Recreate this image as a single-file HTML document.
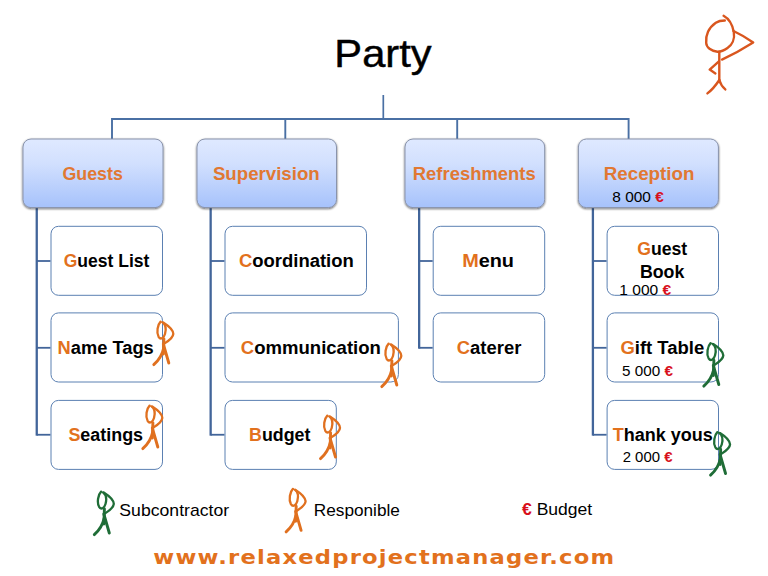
<!DOCTYPE html>
<html lang="en"><head><meta charset="utf-8"><title>Party WBS</title>
<style>html,body{margin:0;padding:0;background:#fff;overflow:hidden}svg{display:block}</style></head><body>
<svg width="768" height="576" viewBox="0 0 768 576">
<defs><linearGradient id="g1" x1="0" y1="0" x2="0" y2="1"><stop offset="0" stop-color="#dfe9ff"/><stop offset="0.35" stop-color="#d2e0fe"/><stop offset="1" stop-color="#a6c2fb"/></linearGradient><filter id="sh" x="-10%" y="-10%" width="120%" height="140%"><feGaussianBlur in="SourceAlpha" stdDeviation="0.9"/><feOffset dy="1.3" result="b"/><feComponentTransfer><feFuncA type="linear" slope="0.6"/></feComponentTransfer><feMerge><feMergeNode/><feMergeNode in="SourceGraphic"/></feMerge></filter></defs>
<rect width="768" height="576" fill="#fff"/>
<g fill="none" stroke="#4a70a4" stroke-width="1.9" stroke-linejoin="miter">
<path d="M383.3,95 V119" stroke-width="1.7"/>
<path d="M112,139 V119 H628.6 V139"/>
<path d="M285.3,119 V139"/><path d="M457.2,119 V139"/>
</g>
<path d="M36.75,208 V435.65" fill="none" stroke="#42659a" stroke-width="2.3"/>
<path d="M36.75,261 H50.5" fill="none" stroke="#42659a" stroke-width="1.8"/>
<path d="M36.75,347.8 H50.5" fill="none" stroke="#42659a" stroke-width="1.8"/>
<path d="M36.75,434.75 H50.5" fill="none" stroke="#42659a" stroke-width="1.8"/>
<path d="M210.65,208 V435.65" fill="none" stroke="#42659a" stroke-width="2.3"/>
<path d="M210.65,261 H224.5" fill="none" stroke="#42659a" stroke-width="1.8"/>
<path d="M210.65,347.8 H224.5" fill="none" stroke="#42659a" stroke-width="1.8"/>
<path d="M210.65,434.75 H224.5" fill="none" stroke="#42659a" stroke-width="1.8"/>
<path d="M419.15,208 V348.7" fill="none" stroke="#42659a" stroke-width="2.3"/>
<path d="M419.15,261 H432.7" fill="none" stroke="#42659a" stroke-width="1.8"/>
<path d="M419.15,347.8 H432.7" fill="none" stroke="#42659a" stroke-width="1.8"/>
<path d="M592.9,208 V435.65" fill="none" stroke="#42659a" stroke-width="2.3"/>
<path d="M592.9,261 H606.6" fill="none" stroke="#42659a" stroke-width="1.8"/>
<path d="M592.9,347.8 H606.6" fill="none" stroke="#42659a" stroke-width="1.8"/>
<path d="M592.9,434.75 H606.6" fill="none" stroke="#42659a" stroke-width="1.8"/>
<rect x="23" y="139" width="140" height="68.6" rx="8" ry="8" fill="url(#g1)" stroke="#8a94ac" stroke-width="1" filter="url(#sh)"/>
<rect x="197" y="139" width="139.5" height="68.6" rx="8" ry="8" fill="url(#g1)" stroke="#8a94ac" stroke-width="1" filter="url(#sh)"/>
<rect x="405" y="139" width="139.70000000000005" height="68.6" rx="8" ry="8" fill="url(#g1)" stroke="#8a94ac" stroke-width="1" filter="url(#sh)"/>
<rect x="578.4" y="139" width="140.0" height="68.6" rx="8" ry="8" fill="url(#g1)" stroke="#8a94ac" stroke-width="1" filter="url(#sh)"/>
<rect x="51" y="226.3" width="111.5" height="69.0" rx="7.5" ry="7.5" fill="#fff" stroke="#5b80b2" stroke-width="1"/>
<rect x="51" y="312.9" width="111.5" height="69.1" rx="7.5" ry="7.5" fill="#fff" stroke="#5b80b2" stroke-width="1"/>
<rect x="51" y="400.4" width="111.5" height="69.0" rx="7.5" ry="7.5" fill="#fff" stroke="#5b80b2" stroke-width="1"/>
<rect x="225" y="226.3" width="141.5" height="69.0" rx="7.5" ry="7.5" fill="#fff" stroke="#5b80b2" stroke-width="1"/>
<rect x="225" y="312.9" width="173.4" height="69.1" rx="7.5" ry="7.5" fill="#fff" stroke="#5b80b2" stroke-width="1"/>
<rect x="225" y="400.4" width="111.3" height="69.0" rx="7.5" ry="7.5" fill="#fff" stroke="#5b80b2" stroke-width="1"/>
<rect x="433.2" y="226.3" width="111.5" height="69.0" rx="7.5" ry="7.5" fill="#fff" stroke="#5b80b2" stroke-width="1"/>
<rect x="433.2" y="312.9" width="111.5" height="69.1" rx="7.5" ry="7.5" fill="#fff" stroke="#5b80b2" stroke-width="1"/>
<rect x="607.1" y="226.3" width="111.4" height="69.0" rx="7.5" ry="7.5" fill="#fff" stroke="#5b80b2" stroke-width="1"/>
<rect x="607.1" y="312.9" width="111.4" height="69.1" rx="7.5" ry="7.5" fill="#fff" stroke="#5b80b2" stroke-width="1"/>
<rect x="607.1" y="400.4" width="111.4" height="69.0" rx="7.5" ry="7.5" fill="#fff" stroke="#5b80b2" stroke-width="1"/>
<text id="t_party" xml:space="preserve" transform="translate(334.37,67) scale(1.0847,1)" font-family='"Liberation Sans", sans-serif' font-size="38.4" font-weight="normal" stroke="#000" stroke-width="0.45"><tspan fill="#000000">Party</tspan></text>
<text id="t_guests" xml:space="preserve" transform="translate(62.42,179.6) scale(0.9490,1)" font-family='"Liberation Sans", sans-serif' font-size="18.8" font-weight="bold"><tspan fill="#e17832">Guests</tspan></text>
<text id="t_superv" xml:space="preserve" transform="translate(212.90,179.5) scale(0.9931,1)" font-family='"Liberation Sans", sans-serif' font-size="18.8" font-weight="bold"><tspan fill="#e17832">Supervision</tspan></text>
<text id="t_refresh" xml:space="preserve" transform="translate(412.81,179.5) scale(0.9798,1)" font-family='"Liberation Sans", sans-serif' font-size="18.8" font-weight="bold"><tspan fill="#e17832">Refreshments</tspan></text>
<text id="t_recep" xml:space="preserve" transform="translate(603.78,179.6) scale(0.9988,1)" font-family='"Liberation Sans", sans-serif' font-size="18.8" font-weight="bold"><tspan fill="#e17832">Reception</tspan></text>
<text id="t_guestlist" xml:space="preserve" transform="translate(63.71,267) scale(0.9330,1)" font-family='"Liberation Sans", sans-serif' font-size="18.8" font-weight="bold"><tspan fill="#e2711d">G</tspan><tspan fill="#000000">uest List</tspan></text>
<text id="t_nametags" xml:space="preserve" transform="translate(57.61,353.9) scale(0.9728,1)" font-family='"Liberation Sans", sans-serif' font-size="18.8" font-weight="bold"><tspan fill="#e2711d">N</tspan><tspan fill="#000000">ame Tags</tspan></text>
<text id="t_seatings" xml:space="preserve" transform="translate(68.39,441) scale(0.9537,1)" font-family='"Liberation Sans", sans-serif' font-size="18.8" font-weight="bold"><tspan fill="#e2711d">S</tspan><tspan fill="#000000">eatings</tspan></text>
<text id="t_coord" xml:space="preserve" transform="translate(238.91,266.7) scale(0.9836,1)" font-family='"Liberation Sans", sans-serif' font-size="18.8" font-weight="bold"><tspan fill="#e2711d">C</tspan><tspan fill="#000000">oordination</tspan></text>
<text id="t_commun" xml:space="preserve" transform="translate(240.83,354) scale(0.9868,1)" font-family='"Liberation Sans", sans-serif' font-size="18.8" font-weight="bold"><tspan fill="#e2711d">C</tspan><tspan fill="#000000">ommunication</tspan></text>
<text id="t_budget" xml:space="preserve" transform="translate(249.06,440.7) scale(0.9491,1)" font-family='"Liberation Sans", sans-serif' font-size="18.8" font-weight="bold"><tspan fill="#e2711d">B</tspan><tspan fill="#000000">udget</tspan></text>
<text id="t_menu" xml:space="preserve" transform="translate(462.14,266.6) scale(1.0564,1)" font-family='"Liberation Sans", sans-serif' font-size="18.8" font-weight="bold"><tspan fill="#e2711d">M</tspan><tspan fill="#000000">enu</tspan></text>
<text id="t_caterer" xml:space="preserve" transform="translate(456.80,353.9) scale(0.9807,1)" font-family='"Liberation Sans", sans-serif' font-size="18.8" font-weight="bold"><tspan fill="#e2711d">C</tspan><tspan fill="#000000">aterer</tspan></text>
<text id="t_guest" xml:space="preserve" transform="translate(637.14,254.75) scale(0.9405,1)" font-family='"Liberation Sans", sans-serif' font-size="18.8" font-weight="bold"><tspan fill="#e2711d">G</tspan><tspan fill="#000000">uest</tspan></text>
<text id="t_book" xml:space="preserve" transform="translate(639.95,278) scale(0.9450,1)" font-family='"Liberation Sans", sans-serif' font-size="18.8" font-weight="bold"><tspan fill="#000000">Book</tspan></text>
<text id="t_gift" xml:space="preserve" transform="translate(620.43,353.75) scale(0.9835,1)" font-family='"Liberation Sans", sans-serif' font-size="18.8" font-weight="bold"><tspan fill="#e2711d">G</tspan><tspan fill="#000000">ift Table</tspan></text>
<text id="t_thank" xml:space="preserve" transform="translate(612.71,440.75) scale(0.9586,1)" font-family='"Liberation Sans", sans-serif' font-size="18.8" font-weight="bold"><tspan fill="#e2711d">T</tspan><tspan fill="#000000">hank yous</tspan></text>
<text id="t_b8" xml:space="preserve" transform="translate(612.32,201.6) scale(1.0863,1)" font-family='"Liberation Sans", sans-serif' font-size="14.2" font-weight="normal"><tspan fill="#000000">8 000 </tspan><tspan fill="#d8101c" font-weight="bold">€</tspan></text>
<text id="t_b1" xml:space="preserve" transform="translate(619.29,294.75) scale(1.0972,1)" font-family='"Liberation Sans", sans-serif' font-size="14.2" font-weight="normal"><tspan fill="#000000">1 000 </tspan><tspan fill="#d8101c" font-weight="bold">€</tspan></text>
<text id="t_b5" xml:space="preserve" transform="translate(622.08,375.5) scale(1.0731,1)" font-family='"Liberation Sans", sans-serif' font-size="14.2" font-weight="normal"><tspan fill="#000000">5 000 </tspan><tspan fill="#d8101c" font-weight="bold">€</tspan></text>
<text id="t_b2" xml:space="preserve" transform="translate(622.66,462) scale(1.0525,1)" font-family='"Liberation Sans", sans-serif' font-size="14.2" font-weight="normal"><tspan fill="#000000">2 000 </tspan><tspan fill="#d8101c" font-weight="bold">€</tspan></text>
<text id="t_subc" xml:space="preserve" transform="translate(119.36,516.25) scale(1.0885,1)" font-family='"Liberation Sans", sans-serif' font-size="16.2" font-weight="normal"><tspan fill="#000000">Subcontractor</tspan></text>
<text id="t_resp" xml:space="preserve" transform="translate(313.82,516) scale(1.0629,1)" font-family='"Liberation Sans", sans-serif' font-size="16.2" font-weight="normal"><tspan fill="#000000">Responible</tspan></text>
<text id="t_eurob" xml:space="preserve" transform="translate(522.00,515) scale(1.0833,1)" font-family='"Liberation Sans", sans-serif' font-size="16.2" font-weight="normal"><tspan fill="#d8101c" font-weight="bold">€</tspan><tspan fill="#000000"> Budget</tspan></text>
<text id="t_url" xml:space="preserve" transform="translate(153.33,563.85) scale(1.1935,1)" font-family='"DejaVu Sans", sans-serif' font-size="19" font-weight="bold" letter-spacing="1.0"><tspan fill="#e2711d">www.relaxedprojectmanager.com</tspan></text>
<g transform="translate(153,321)" fill="none" stroke="#e0701f" stroke-width="2.3" stroke-linecap="round" stroke-linejoin="round"><path d="M7.6,0.6 C4.6,3.6 3.2,11.5 5.6,15.8 C7.6,19 10.8,17.2 12,13 C13.4,8 12.2,3.4 9.6,1.4"/><path d="M10.2,1.6 C15,4.6 20,9 20.3,12.9 C20.2,16.8 15.4,20 11.6,22.4"/><g stroke-width="2.9"><path d="M10.9,17.8 L10.4,33"/><path d="M10.7,27 C9.2,34 5,40 0.8,43.6"/><path d="M10.3,23 L15.8,42"/></g></g>
<g transform="translate(142,405)" fill="none" stroke="#e0701f" stroke-width="2.3" stroke-linecap="round" stroke-linejoin="round"><path d="M7.6,0.6 C4.6,3.6 3.2,11.5 5.6,15.8 C7.6,19 10.8,17.2 12,13 C13.4,8 12.2,3.4 9.6,1.4"/><path d="M10.2,1.6 C15,4.6 20,9 20.3,12.9 C20.2,16.8 15.4,20 11.6,22.4"/><g stroke-width="2.9"><path d="M10.9,17.8 L10.4,33"/><path d="M10.7,27 C9.2,34 5,40 0.8,43.6"/><path d="M10.3,23 L15.8,42"/></g></g>
<g transform="translate(381,343)" fill="none" stroke="#e0701f" stroke-width="2.3" stroke-linecap="round" stroke-linejoin="round"><path d="M7.6,0.6 C4.6,3.6 3.2,11.5 5.6,15.8 C7.6,19 10.8,17.2 12,13 C13.4,8 12.2,3.4 9.6,1.4"/><path d="M10.2,1.6 C15,4.6 20,9 20.3,12.9 C20.2,16.8 15.4,20 11.6,22.4"/><g stroke-width="2.9"><path d="M10.9,17.8 L10.4,33"/><path d="M10.7,27 C9.2,34 5,40 0.8,43.6"/><path d="M10.3,23 L15.8,42"/></g></g>
<g transform="translate(319.7,415)" fill="none" stroke="#e0701f" stroke-width="2.3" stroke-linecap="round" stroke-linejoin="round"><path d="M7.6,0.6 C4.6,3.6 3.2,11.5 5.6,15.8 C7.6,19 10.8,17.2 12,13 C13.4,8 12.2,3.4 9.6,1.4"/><path d="M10.2,1.6 C15,4.6 20,9 20.3,12.9 C20.2,16.8 15.4,20 11.6,22.4"/><g stroke-width="2.9"><path d="M10.9,17.8 L10.4,33"/><path d="M10.7,27 C9.2,34 5,40 0.8,43.6"/><path d="M10.3,23 L15.8,42"/></g></g>
<g transform="translate(703,342.5)" fill="none" stroke="#1f6d37" stroke-width="2.3" stroke-linecap="round" stroke-linejoin="round"><path d="M7.6,0.6 C4.6,3.6 3.2,11.5 5.6,15.8 C7.6,19 10.8,17.2 12,13 C13.4,8 12.2,3.4 9.6,1.4"/><path d="M10.2,1.6 C15,4.6 20,9 20.3,12.9 C20.2,16.8 15.4,20 11.6,22.4"/><g stroke-width="2.9"><path d="M10.9,17.8 L10.4,33"/><path d="M10.7,27 C9.2,34 5,40 0.8,43.6"/><path d="M10.3,23 L15.8,42"/></g></g>
<g transform="translate(709.75,431.5)" fill="none" stroke="#1f6d37" stroke-width="2.3" stroke-linecap="round" stroke-linejoin="round"><path d="M7.6,0.6 C4.6,3.6 3.2,11.5 5.6,15.8 C7.6,19 10.8,17.2 12,13 C13.4,8 12.2,3.4 9.6,1.4"/><path d="M10.2,1.6 C15,4.6 20,9 20.3,12.9 C20.2,16.8 15.4,20 11.6,22.4"/><g stroke-width="2.9"><path d="M10.9,17.8 L10.4,33"/><path d="M10.7,27 C9.2,34 5,40 0.8,43.6"/><path d="M10.3,23 L15.8,42"/></g></g>
<g transform="translate(93.5,491)" fill="none" stroke="#1f6d37" stroke-width="2.3" stroke-linecap="round" stroke-linejoin="round"><path d="M7.6,0.6 C4.6,3.6 3.2,11.5 5.6,15.8 C7.6,19 10.8,17.2 12,13 C13.4,8 12.2,3.4 9.6,1.4"/><path d="M10.2,1.6 C15,4.6 20,9 20.3,12.9 C20.2,16.8 15.4,20 11.6,22.4"/><g stroke-width="2.9"><path d="M10.9,17.8 L10.4,33"/><path d="M10.7,27 C9.2,34 5,40 0.8,43.6"/><path d="M10.3,23 L15.8,42"/></g></g>
<g transform="translate(285.3,488.3)" fill="none" stroke="#e0701f" stroke-width="2.3" stroke-linecap="round" stroke-linejoin="round"><path d="M7.6,0.6 C4.6,3.6 3.2,11.5 5.6,15.8 C7.6,19 10.8,17.2 12,13 C13.4,8 12.2,3.4 9.6,1.4"/><path d="M10.2,1.6 C15,4.6 20,9 20.3,12.9 C20.2,16.8 15.4,20 11.6,22.4"/><g stroke-width="2.9"><path d="M10.9,17.8 L10.4,33"/><path d="M10.7,27 C9.2,34 5,40 0.8,43.6"/><path d="M10.3,23 L15.8,42"/></g></g>
<g fill="none" stroke="#d9561e" stroke-width="2.4" stroke-linecap="round" stroke-linejoin="round"><path d="M723.6,15.8 C728.5,18.5 732.5,25 733.8,32 C735,39 732,45 727.5,48 C724,50.5 720.5,51.8 717.5,51.7 C711,51 706.5,47.5 706.2,43 C705.8,38.5 706.5,35 708,31.8 C709.8,28 712.5,25 715.8,22.75 C718.5,21 721.5,20.5 724.8,20.5"/><path d="M733.5,31 Q744,36 753.2,42.4 Q738,52 722,59.6"/><path d="M719.3,51.7 L719.3,82"/><path d="M718.9,61.3 L709.7,69.6 L715.4,73.4"/><path d="M719.3,80 C716,85 712,90 707.4,93.4"/><path d="M719.3,80 C720.5,84 723,87.5 725.3,89.4"/></g>
</svg></body></html>
